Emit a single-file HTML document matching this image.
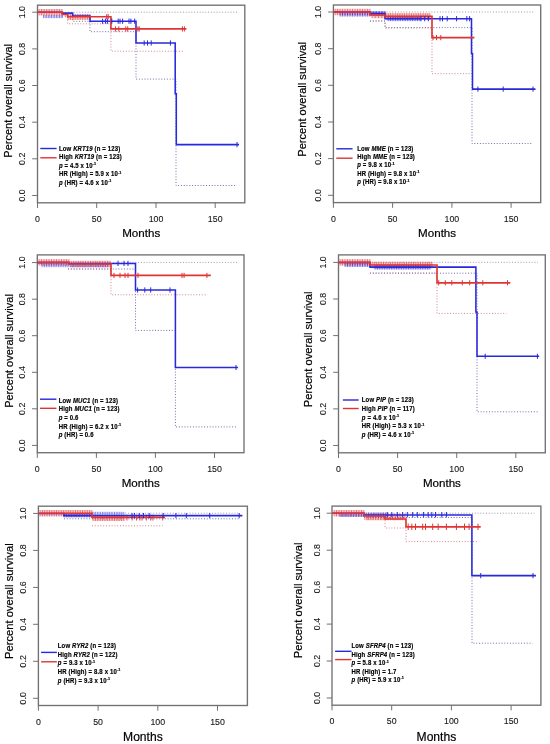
<!DOCTYPE html>
<html><head><meta charset="utf-8"><style>
html,body{margin:0;padding:0;background:#fff;}
body{width:550px;height:744px;overflow:hidden;}
svg{display:block;will-change:transform;}
.tk{font-family:"Liberation Sans",sans-serif;font-size:8.8px;fill:#151515;stroke:#151515;stroke-width:0.1px;}
.ylab{font-family:"Liberation Sans",sans-serif;font-size:11px;fill:#000;stroke:#000;stroke-width:0.2px;}
.lab{font-family:"Liberation Sans",sans-serif;font-size:11.3px;fill:#000;stroke:#000;stroke-width:0.2px;}
.lg{font-family:"Liberation Sans",sans-serif;font-size:6.0px;font-weight:bold;fill:#000;stroke:#000;stroke-width:0.16px;letter-spacing:0.15px;}
.sup{font-size:3.8px;letter-spacing:0;}
</style></head><body>
<svg width="550" height="744" viewBox="0 0 550 744">
<rect width="550" height="744" fill="#fff"/>
<rect x="37.5" y="5.2" width="207.3" height="197.6" fill="none" stroke="#717171" stroke-width="1.35"/>
<path d="M32.2,195.5H37.5M32.2,158.8H37.5M32.2,122.2H37.5M32.2,85.5H37.5M32.2,48.9H37.5M32.2,12.2H37.5M37.5,202.8V208.0M96.7,202.8V208.0M156.0,202.8V208.0M215.2,202.8V208.0" stroke="#717171" stroke-width="1.0" fill="none"/>
<text x="0" y="0" transform="translate(22.2,195.5) rotate(-90)" text-anchor="middle" dominant-baseline="central" class="tk">0.0</text>
<text x="0" y="0" transform="translate(22.2,158.8) rotate(-90)" text-anchor="middle" dominant-baseline="central" class="tk">0.2</text>
<text x="0" y="0" transform="translate(22.2,122.2) rotate(-90)" text-anchor="middle" dominant-baseline="central" class="tk">0.4</text>
<text x="0" y="0" transform="translate(22.2,85.5) rotate(-90)" text-anchor="middle" dominant-baseline="central" class="tk">0.6</text>
<text x="0" y="0" transform="translate(22.2,48.9) rotate(-90)" text-anchor="middle" dominant-baseline="central" class="tk">0.8</text>
<text x="0" y="0" transform="translate(22.2,12.2) rotate(-90)" text-anchor="middle" dominant-baseline="central" class="tk">1.0</text>
<text x="37.5" y="219.0" text-anchor="middle" dominant-baseline="central" class="tk">0</text>
<text x="96.7" y="219.0" text-anchor="middle" dominant-baseline="central" class="tk">50</text>
<text x="156.0" y="219.0" text-anchor="middle" dominant-baseline="central" class="tk">100</text>
<text x="215.2" y="219.0" text-anchor="middle" dominant-baseline="central" class="tk">150</text>
<text x="141.2" y="237.3" text-anchor="middle" class="lab" style="font-size:11.6px">Months</text>
<text x="0" y="0" transform="translate(12.3,100.8) rotate(-90)" text-anchor="middle" class="ylab" style="font-size:11px">Percent overall survival</text>
<path d="M37.3,12.2H238" fill="none" stroke="#9a9aac" stroke-width="1.0" stroke-dasharray="1 1.8"/>
<path d="M62,17H67.6V23.8H110.9V51.2H184.6" fill="none" stroke="#d4848e" stroke-width="1.0" stroke-dasharray="1 1.8"/>
<path d="M62,16H72.7V21.3H90V31.7H136V79.1H176V185.5H237" fill="none" stroke="#7070b0" stroke-width="1.0" stroke-dasharray="1 1.8"/>
<rect x="39.0" y="9.0" width="23.0" height="6.4" fill="#e03434" opacity="0.26"/>
<path d="M39.0,9.0V15.4 M41.6,9.0V15.4 M44.1,9.0V15.4 M46.7,9.0V15.4 M49.2,9.0V15.4 M51.8,9.0V15.4 M54.3,9.0V15.4 M56.9,9.0V15.4 M59.4,9.0V15.4 M62.0,9.0V15.4" fill="none" stroke="#e03434" stroke-width="1.0" opacity="0.58"/>
<rect x="68.0" y="13.9" width="22.0" height="6.0" fill="#e03434" opacity="0.26"/>
<path d="M68.0,13.9V19.9 M70.4,13.9V19.9 M72.9,13.9V19.9 M75.3,13.9V19.9 M77.8,13.9V19.9 M80.2,13.9V19.9 M82.7,13.9V19.9 M85.1,13.9V19.9 M87.6,13.9V19.9 M90.0,13.9V19.9" fill="none" stroke="#e03434" stroke-width="1.0" opacity="0.58"/>
<rect x="43.5" y="15.1" width="18.5" height="3.0" fill="#2828dc" opacity="0.23"/>
<path d="M43.5,15.1V18.1 M46.1,15.1V18.1 M48.8,15.1V18.1 M51.4,15.1V18.1 M54.1,15.1V18.1 M56.7,15.1V18.1 M59.4,15.1V18.1 M62.0,15.1V18.1" fill="none" stroke="#2828dc" stroke-width="1.0" opacity="0.5"/>
<path d="M37.3,12.2H62V13.1H72.7V16H90V21.2H136V43H175.2V93.8H176.3V144.6H239" fill="none" stroke="#2828dc" stroke-width="1.55" />
<path d="M37.3,12.2H62.3V14.5H67.6V16.7H110.9V28.9H186.4" fill="none" stroke="#e03434" stroke-width="1.65" />
<path d="M102.6,18.6V23.8 M105.4,18.6V23.8 M107.4,18.6V23.8 M111.8,18.6V23.8 M118.2,18.6V23.8 M120.0,18.6V23.8 M122.6,18.6V23.8 M129.0,18.6V23.8 M130.9,18.6V23.8 M134.7,18.6V23.8" fill="none" stroke="#2828dc" stroke-width="1.0" opacity="1"/>
<path d="M144.2,40.4V45.6 M147.5,40.4V45.6 M151.2,40.4V45.6 M170.4,40.4V45.6" fill="none" stroke="#2828dc" stroke-width="1.0" opacity="1"/>
<path d="M237.0,142.0V147.2" fill="none" stroke="#2828dc" stroke-width="1.0" opacity="1"/>
<path d="M106.7,14.1V19.3 M108.2,14.1V19.3" fill="none" stroke="#e03434" stroke-width="1.0" opacity="1"/>
<path d="M115.6,26.3V31.5 M118.8,26.3V31.5 M125.8,26.3V31.5 M127.7,26.3V31.5 M137.9,26.3V31.5 M139.2,26.3V31.5 M182.4,26.3V31.5 M184.4,26.3V31.5" fill="none" stroke="#e03434" stroke-width="1.0" opacity="1"/>
<path d="M40.3,148.5H56.6" stroke="#2828dc" stroke-width="1.4"/>
<path d="M40.3,157.8H56.6" stroke="#e03434" stroke-width="1.4"/>
<text x="0" y="0" transform="translate(58.9,151.02) scale(1,1.12)" class="lg">Low <tspan font-style="italic">KRT19</tspan> (n = 123)</text>
<text x="0" y="0" transform="translate(58.9,159.47) scale(1,1.12)" class="lg">High <tspan font-style="italic">KRT19</tspan> (n = 123)</text>
<text x="0" y="0" transform="translate(58.9,167.92) scale(1,1.12)" class="lg"><tspan font-style="italic">p</tspan> = 4.5 x 10<tspan class="sup" dy="-2.4">-1</tspan></text>
<text x="0" y="0" transform="translate(58.9,176.37) scale(1,1.12)" class="lg">HR (High) = 5.9 x 10<tspan class="sup" dy="-2.4">-1</tspan></text>
<text x="0" y="0" transform="translate(58.9,184.82) scale(1,1.12)" class="lg"><tspan font-style="italic">p</tspan> (HR) = 4.6 x 10<tspan class="sup" dy="-2.4">-1</tspan></text>
<rect x="333.4" y="5.0" width="207.3" height="197.6" fill="none" stroke="#717171" stroke-width="1.35"/>
<path d="M328.1,195.3H333.4M328.1,158.6H333.4M328.1,122.0H333.4M328.1,85.3H333.4M328.1,48.7H333.4M328.1,12.0H333.4M333.4,202.6V207.8M392.6,202.6V207.8M451.9,202.6V207.8M511.1,202.6V207.8" stroke="#717171" stroke-width="1.0" fill="none"/>
<text x="0" y="0" transform="translate(318.1,195.3) rotate(-90)" text-anchor="middle" dominant-baseline="central" class="tk">0.0</text>
<text x="0" y="0" transform="translate(318.1,158.6) rotate(-90)" text-anchor="middle" dominant-baseline="central" class="tk">0.2</text>
<text x="0" y="0" transform="translate(318.1,122.0) rotate(-90)" text-anchor="middle" dominant-baseline="central" class="tk">0.4</text>
<text x="0" y="0" transform="translate(318.1,85.3) rotate(-90)" text-anchor="middle" dominant-baseline="central" class="tk">0.6</text>
<text x="0" y="0" transform="translate(318.1,48.7) rotate(-90)" text-anchor="middle" dominant-baseline="central" class="tk">0.8</text>
<text x="0" y="0" transform="translate(318.1,12.0) rotate(-90)" text-anchor="middle" dominant-baseline="central" class="tk">1.0</text>
<text x="333.4" y="218.8" text-anchor="middle" dominant-baseline="central" class="tk">0</text>
<text x="392.6" y="218.8" text-anchor="middle" dominant-baseline="central" class="tk">50</text>
<text x="451.9" y="218.8" text-anchor="middle" dominant-baseline="central" class="tk">100</text>
<text x="511.1" y="218.8" text-anchor="middle" dominant-baseline="central" class="tk">150</text>
<text x="437.1" y="237.1" text-anchor="middle" class="lab" style="font-size:11.6px">Months</text>
<text x="0" y="0" transform="translate(305.9,99.4) rotate(-90)" text-anchor="middle" class="ylab" style="font-size:11.1px">Percent overall survival</text>
<path d="M333.4,12H534.7" fill="none" stroke="#9a9aac" stroke-width="1.0" stroke-dasharray="1 1.8"/>
<path d="M370,21H385V28H432V73.7H472" fill="none" stroke="#d4848e" stroke-width="1.0" stroke-dasharray="1 1.8"/>
<path d="M370,21H385V27.6H472V143.5H532.3" fill="none" stroke="#7070b0" stroke-width="1.0" stroke-dasharray="1 1.8"/>
<rect x="335.0" y="8.8" width="35.0" height="6.4" fill="#e03434" opacity="0.26"/>
<path d="M335.0,8.8V15.2 M337.5,8.8V15.2 M340.0,8.8V15.2 M342.5,8.8V15.2 M345.0,8.8V15.2 M347.5,8.8V15.2 M350.0,8.8V15.2 M352.5,8.8V15.2 M355.0,8.8V15.2 M357.5,8.8V15.2 M360.0,8.8V15.2 M362.5,8.8V15.2 M365.0,8.8V15.2 M367.5,8.8V15.2 M370.0,8.8V15.2" fill="none" stroke="#e03434" stroke-width="1.0" opacity="0.58"/>
<rect x="372.0" y="11.8" width="13.0" height="6.4" fill="#e03434" opacity="0.26"/>
<path d="M372.0,11.8V18.2 M375.2,11.8V18.2 M378.5,11.8V18.2 M381.8,11.8V18.2 M385.0,11.8V18.2" fill="none" stroke="#e03434" stroke-width="1.0" opacity="0.58"/>
<rect x="386.0" y="13.2" width="44.0" height="6.4" fill="#e03434" opacity="0.26"/>
<path d="M386.0,13.2V19.6 M388.3,13.2V19.6 M390.6,13.2V19.6 M392.9,13.2V19.6 M395.3,13.2V19.6 M397.6,13.2V19.6 M399.9,13.2V19.6 M402.2,13.2V19.6 M404.5,13.2V19.6 M406.8,13.2V19.6 M409.2,13.2V19.6 M411.5,13.2V19.6 M413.8,13.2V19.6 M416.1,13.2V19.6 M418.4,13.2V19.6 M420.7,13.2V19.6 M423.1,13.2V19.6 M425.4,13.2V19.6 M427.7,13.2V19.6 M430.0,13.2V19.6" fill="none" stroke="#e03434" stroke-width="1.0" opacity="0.58"/>
<rect x="340.0" y="12.5" width="30.0" height="4.0" fill="#2828dc" opacity="0.23"/>
<path d="M340.0,12.5V16.5 M342.5,12.5V16.5 M345.0,12.5V16.5 M347.5,12.5V16.5 M350.0,12.5V16.5 M352.5,12.5V16.5 M355.0,12.5V16.5 M357.5,12.5V16.5 M360.0,12.5V16.5 M362.5,12.5V16.5 M365.0,12.5V16.5 M367.5,12.5V16.5 M370.0,12.5V16.5" fill="none" stroke="#2828dc" stroke-width="1.0" opacity="0.5"/>
<rect x="371.0" y="11.0" width="14.0" height="4.8" fill="#2828dc" opacity="0.25"/>
<path d="M371.0,11.0V15.8 M373.8,11.0V15.8 M376.6,11.0V15.8 M379.4,11.0V15.8 M382.2,11.0V15.8 M385.0,11.0V15.8" fill="none" stroke="#2828dc" stroke-width="1.0" opacity="0.55"/>
<rect x="388.0" y="16.3" width="32.0" height="4.8" fill="#2828dc" opacity="0.27"/>
<path d="M388.0,16.3V21.1 M390.5,16.3V21.1 M392.9,16.3V21.1 M395.4,16.3V21.1 M397.8,16.3V21.1 M400.3,16.3V21.1 M402.8,16.3V21.1 M405.2,16.3V21.1 M407.7,16.3V21.1 M410.2,16.3V21.1 M412.6,16.3V21.1 M415.1,16.3V21.1 M417.5,16.3V21.1 M420.0,16.3V21.1" fill="none" stroke="#2828dc" stroke-width="1.0" opacity="0.6"/>
<path d="M333.4,12H370V13.4H385V18.7H471.5V53.6H472.5V89.1H535.5" fill="none" stroke="#2828dc" stroke-width="1.55" />
<path d="M333.4,12H370V15H385V16.4H432V37.6H474.4" fill="none" stroke="#e03434" stroke-width="1.65" />
<path d="M421.0,16.1V21.3 M424.7,16.1V21.3 M428.3,16.1V21.3 M440.0,16.1V21.3 M442.5,16.1V21.3 M447.2,16.1V21.3 M456.6,16.1V21.3 M466.8,16.1V21.3 M469.6,16.1V21.3" fill="none" stroke="#2828dc" stroke-width="1.0" opacity="1"/>
<path d="M477.9,86.5V91.7 M503.2,86.5V91.7 M533.0,86.5V91.7" fill="none" stroke="#2828dc" stroke-width="1.0" opacity="1"/>
<path d="M433.0,35.0V40.2 M436.5,35.0V40.2 M440.8,35.0V40.2" fill="none" stroke="#e03434" stroke-width="1.0" opacity="1"/>
<path d="M336.3,148.8H352.6" stroke="#2828dc" stroke-width="1.4"/>
<path d="M336.3,158.2H352.6" stroke="#e03434" stroke-width="1.4"/>
<text x="0" y="0" transform="translate(357.2,150.62) scale(1,1.12)" class="lg">Low <tspan font-style="italic">MME</tspan> (n = 123)</text>
<text x="0" y="0" transform="translate(357.2,159.02) scale(1,1.12)" class="lg">High <tspan font-style="italic">MME</tspan> (n = 123)</text>
<text x="0" y="0" transform="translate(357.2,167.42) scale(1,1.12)" class="lg"><tspan font-style="italic">p</tspan> = 9.8 x 10<tspan class="sup" dy="-2.4">-1</tspan></text>
<text x="0" y="0" transform="translate(357.2,175.82) scale(1,1.12)" class="lg">HR (High) = 9.8 x 10<tspan class="sup" dy="-2.4">-1</tspan></text>
<text x="0" y="0" transform="translate(357.2,184.22) scale(1,1.12)" class="lg"><tspan font-style="italic">p</tspan> (HR) = 9.8 x 10<tspan class="sup" dy="-2.4">-1</tspan></text>
<rect x="37.3" y="254.9" width="206.7" height="197.8" fill="none" stroke="#717171" stroke-width="1.35"/>
<path d="M32.0,445.4H37.3M32.0,408.8H37.3M32.0,372.3H37.3M32.0,335.7H37.3M32.0,299.2H37.3M32.0,262.6H37.3M37.3,452.7V457.9M96.4,452.7V457.9M155.4,452.7V457.9M214.5,452.7V457.9" stroke="#717171" stroke-width="1.0" fill="none"/>
<text x="0" y="0" transform="translate(22.0,445.4) rotate(-90)" text-anchor="middle" dominant-baseline="central" class="tk">0.0</text>
<text x="0" y="0" transform="translate(22.0,408.8) rotate(-90)" text-anchor="middle" dominant-baseline="central" class="tk">0.2</text>
<text x="0" y="0" transform="translate(22.0,372.3) rotate(-90)" text-anchor="middle" dominant-baseline="central" class="tk">0.4</text>
<text x="0" y="0" transform="translate(22.0,335.7) rotate(-90)" text-anchor="middle" dominant-baseline="central" class="tk">0.6</text>
<text x="0" y="0" transform="translate(22.0,299.2) rotate(-90)" text-anchor="middle" dominant-baseline="central" class="tk">0.8</text>
<text x="0" y="0" transform="translate(22.0,262.6) rotate(-90)" text-anchor="middle" dominant-baseline="central" class="tk">1.0</text>
<text x="37.3" y="468.9" text-anchor="middle" dominant-baseline="central" class="tk">0</text>
<text x="96.4" y="468.9" text-anchor="middle" dominant-baseline="central" class="tk">50</text>
<text x="155.4" y="468.9" text-anchor="middle" dominant-baseline="central" class="tk">100</text>
<text x="214.5" y="468.9" text-anchor="middle" dominant-baseline="central" class="tk">150</text>
<text x="140.7" y="487.2" text-anchor="middle" class="lab" style="font-size:11.6px">Months</text>
<text x="0" y="0" transform="translate(12.5,351.0) rotate(-90)" text-anchor="middle" class="ylab" style="font-size:11px">Percent overall survival</text>
<path d="M37.3,262.4H237" fill="none" stroke="#9a9aac" stroke-width="1.0" stroke-dasharray="1 1.8"/>
<path d="M68,269H111V294.8H207.5" fill="none" stroke="#d4848e" stroke-width="1.0" stroke-dasharray="1 1.8"/>
<path d="M68,269H135.5V330.4H175.4V426.9H237" fill="none" stroke="#7070b0" stroke-width="1.0" stroke-dasharray="1 1.8"/>
<rect x="39.0" y="259.2" width="30.0" height="6.4" fill="#e03434" opacity="0.26"/>
<path d="M39.0,259.2V265.6 M41.5,259.2V265.6 M44.0,259.2V265.6 M46.5,259.2V265.6 M49.0,259.2V265.6 M51.5,259.2V265.6 M54.0,259.2V265.6 M56.5,259.2V265.6 M59.0,259.2V265.6 M61.5,259.2V265.6 M64.0,259.2V265.6 M66.5,259.2V265.6 M69.0,259.2V265.6" fill="none" stroke="#e03434" stroke-width="1.0" opacity="0.58"/>
<rect x="71.0" y="260.8" width="39.0" height="6.4" fill="#e03434" opacity="0.26"/>
<path d="M71.0,260.8V267.2 M73.4,260.8V267.2 M75.9,260.8V267.2 M78.3,260.8V267.2 M80.8,260.8V267.2 M83.2,260.8V267.2 M85.6,260.8V267.2 M88.1,260.8V267.2 M90.5,260.8V267.2 M92.9,260.8V267.2 M95.4,260.8V267.2 M97.8,260.8V267.2 M100.2,260.8V267.2 M102.7,260.8V267.2 M105.1,260.8V267.2 M107.6,260.8V267.2 M110.0,260.8V267.2" fill="none" stroke="#e03434" stroke-width="1.0" opacity="0.58"/>
<rect x="42.0" y="264.0" width="66.0" height="3.2" fill="#2828dc" opacity="0.18"/>
<path d="M42.0,264.0V267.2 M44.4,264.0V267.2 M46.7,264.0V267.2 M49.1,264.0V267.2 M51.4,264.0V267.2 M53.8,264.0V267.2 M56.1,264.0V267.2 M58.5,264.0V267.2 M60.9,264.0V267.2 M63.2,264.0V267.2 M65.6,264.0V267.2 M67.9,264.0V267.2 M70.3,264.0V267.2 M72.6,264.0V267.2 M75.0,264.0V267.2 M77.4,264.0V267.2 M79.7,264.0V267.2 M82.1,264.0V267.2 M84.4,264.0V267.2 M86.8,264.0V267.2 M89.1,264.0V267.2 M91.5,264.0V267.2 M93.9,264.0V267.2 M96.2,264.0V267.2 M98.6,264.0V267.2 M100.9,264.0V267.2 M103.3,264.0V267.2 M105.6,264.0V267.2 M108.0,264.0V267.2" fill="none" stroke="#2828dc" stroke-width="1.0" opacity="0.4"/>
<path d="M37.3,262.6H69V263.4H135.5V290H175.4V367.5H238" fill="none" stroke="#2828dc" stroke-width="1.55" />
<path d="M37.3,262.4H69V264H111V275.4H210.8" fill="none" stroke="#e03434" stroke-width="1.65" />
<path d="M118.0,260.8V266.0 M124.0,260.8V266.0 M128.0,260.8V266.0" fill="none" stroke="#2828dc" stroke-width="1.0" opacity="1"/>
<path d="M137.6,287.4V292.6 M144.8,287.4V292.6 M150.7,287.4V292.6 M170.0,287.4V292.6" fill="none" stroke="#2828dc" stroke-width="1.0" opacity="1"/>
<path d="M236.0,364.9V370.1" fill="none" stroke="#2828dc" stroke-width="1.0" opacity="1"/>
<path d="M114.0,272.8V278.0 M120.0,272.8V278.0 M125.0,272.8V278.0 M128.0,272.8V278.0 M138.0,272.8V278.0 M182.0,272.8V278.0 M184.1,272.8V278.0 M206.9,272.8V278.0" fill="none" stroke="#e03434" stroke-width="1.0" opacity="1"/>
<path d="M40,399.2H56.4" stroke="#2828dc" stroke-width="1.4"/>
<path d="M40,408.3H56.4" stroke="#e03434" stroke-width="1.4"/>
<text x="0" y="0" transform="translate(58.7,402.72) scale(1,1.12)" class="lg">Low <tspan font-style="italic">MUC1</tspan> (n = 123)</text>
<text x="0" y="0" transform="translate(58.7,411.37) scale(1,1.12)" class="lg">High <tspan font-style="italic">MUC1</tspan> (n = 123)</text>
<text x="0" y="0" transform="translate(58.7,420.02) scale(1,1.12)" class="lg"><tspan font-style="italic">p</tspan> = 0.6</text>
<text x="0" y="0" transform="translate(58.7,428.67) scale(1,1.12)" class="lg">HR (High) = 6.2 x 10<tspan class="sup" dy="-2.4">-1</tspan></text>
<text x="0" y="0" transform="translate(58.7,437.32) scale(1,1.12)" class="lg"><tspan font-style="italic">p</tspan> (HR) = 0.6</text>
<rect x="338.5" y="254.9" width="206.8" height="197.9" fill="none" stroke="#717171" stroke-width="1.35"/>
<path d="M333.2,445.5H338.5M333.2,408.9H338.5M333.2,372.3H338.5M333.2,335.6H338.5M333.2,299.0H338.5M333.2,262.4H338.5M338.5,452.8V458.0M397.6,452.8V458.0M456.7,452.8V458.0M515.8,452.8V458.0" stroke="#717171" stroke-width="1.0" fill="none"/>
<text x="0" y="0" transform="translate(323.2,445.5) rotate(-90)" text-anchor="middle" dominant-baseline="central" class="tk">0.0</text>
<text x="0" y="0" transform="translate(323.2,408.9) rotate(-90)" text-anchor="middle" dominant-baseline="central" class="tk">0.2</text>
<text x="0" y="0" transform="translate(323.2,372.3) rotate(-90)" text-anchor="middle" dominant-baseline="central" class="tk">0.4</text>
<text x="0" y="0" transform="translate(323.2,335.6) rotate(-90)" text-anchor="middle" dominant-baseline="central" class="tk">0.6</text>
<text x="0" y="0" transform="translate(323.2,299.0) rotate(-90)" text-anchor="middle" dominant-baseline="central" class="tk">0.8</text>
<text x="0" y="0" transform="translate(323.2,262.4) rotate(-90)" text-anchor="middle" dominant-baseline="central" class="tk">1.0</text>
<text x="338.5" y="469.0" text-anchor="middle" dominant-baseline="central" class="tk">0</text>
<text x="397.6" y="469.0" text-anchor="middle" dominant-baseline="central" class="tk">50</text>
<text x="456.7" y="469.0" text-anchor="middle" dominant-baseline="central" class="tk">100</text>
<text x="515.8" y="469.0" text-anchor="middle" dominant-baseline="central" class="tk">150</text>
<text x="441.9" y="487.3" text-anchor="middle" class="lab" style="font-size:11.6px">Months</text>
<text x="0" y="0" transform="translate(312.0,349.3) rotate(-90)" text-anchor="middle" class="ylab" style="font-size:11.2px">Percent overall survival</text>
<path d="M338.5,262.3H538" fill="none" stroke="#9a9aac" stroke-width="1.0" stroke-dasharray="1 1.8"/>
<path d="M370,273H437V313.4H506.4" fill="none" stroke="#d4848e" stroke-width="1.0" stroke-dasharray="1 1.8"/>
<path d="M370,273.2H477V411.8H538" fill="none" stroke="#7070b0" stroke-width="1.0" stroke-dasharray="1 1.8"/>
<rect x="340.0" y="259.2" width="30.0" height="6.4" fill="#e03434" opacity="0.26"/>
<path d="M340.0,259.2V265.6 M342.5,259.2V265.6 M345.0,259.2V265.6 M347.5,259.2V265.6 M350.0,259.2V265.6 M352.5,259.2V265.6 M355.0,259.2V265.6 M357.5,259.2V265.6 M360.0,259.2V265.6 M362.5,259.2V265.6 M365.0,259.2V265.6 M367.5,259.2V265.6 M370.0,259.2V265.6" fill="none" stroke="#e03434" stroke-width="1.0" opacity="0.58"/>
<rect x="372.0" y="261.8" width="60.0" height="6.4" fill="#e03434" opacity="0.26"/>
<path d="M372.0,261.8V268.2 M374.3,261.8V268.2 M376.6,261.8V268.2 M378.9,261.8V268.2 M381.2,261.8V268.2 M383.5,261.8V268.2 M385.8,261.8V268.2 M388.2,261.8V268.2 M390.5,261.8V268.2 M392.8,261.8V268.2 M395.1,261.8V268.2 M397.4,261.8V268.2 M399.7,261.8V268.2 M402.0,261.8V268.2 M404.3,261.8V268.2 M406.6,261.8V268.2 M408.9,261.8V268.2 M411.2,261.8V268.2 M413.5,261.8V268.2 M415.8,261.8V268.2 M418.2,261.8V268.2 M420.5,261.8V268.2 M422.8,261.8V268.2 M425.1,261.8V268.2 M427.4,261.8V268.2 M429.7,261.8V268.2 M432.0,261.8V268.2" fill="none" stroke="#e03434" stroke-width="1.0" opacity="0.58"/>
<rect x="345.0" y="263.0" width="25.0" height="4.0" fill="#2828dc" opacity="0.23"/>
<path d="M345.0,263.0V267.0 M347.5,263.0V267.0 M350.0,263.0V267.0 M352.5,263.0V267.0 M355.0,263.0V267.0 M357.5,263.0V267.0 M360.0,263.0V267.0 M362.5,263.0V267.0 M365.0,263.0V267.0 M367.5,263.0V267.0 M370.0,263.0V267.0" fill="none" stroke="#2828dc" stroke-width="1.0" opacity="0.5"/>
<rect x="375.0" y="264.7" width="55.0" height="4.8" fill="#2828dc" opacity="0.27"/>
<path d="M375.0,264.7V269.5 M377.4,264.7V269.5 M379.8,264.7V269.5 M382.2,264.7V269.5 M384.6,264.7V269.5 M387.0,264.7V269.5 M389.3,264.7V269.5 M391.7,264.7V269.5 M394.1,264.7V269.5 M396.5,264.7V269.5 M398.9,264.7V269.5 M401.3,264.7V269.5 M403.7,264.7V269.5 M406.1,264.7V269.5 M408.5,264.7V269.5 M410.9,264.7V269.5 M413.3,264.7V269.5 M415.7,264.7V269.5 M418.0,264.7V269.5 M420.4,264.7V269.5 M422.8,264.7V269.5 M425.2,264.7V269.5 M427.6,264.7V269.5 M430.0,264.7V269.5" fill="none" stroke="#2828dc" stroke-width="1.0" opacity="0.6"/>
<path d="M338.5,262.4H370V267.1H475.9V311.9H477V356.3H539.2" fill="none" stroke="#2828dc" stroke-width="1.55" />
<path d="M338.5,262.4H370V265H437V282.8H510.3" fill="none" stroke="#e03434" stroke-width="1.65" />
<path d="M485.2,353.7V358.9 M537.4,353.7V358.9" fill="none" stroke="#2828dc" stroke-width="1.0" opacity="1"/>
<path d="M438.7,280.2V285.4 M445.3,280.2V285.4 M451.8,280.2V285.4 M462.3,280.2V285.4 M469.7,280.2V285.4 M482.8,280.2V285.4 M507.5,280.2V285.4" fill="none" stroke="#e03434" stroke-width="1.0" opacity="1"/>
<path d="M342.9,400H358.7" stroke="#2828dc" stroke-width="1.4"/>
<path d="M342.9,408.5H358.7" stroke="#e03434" stroke-width="1.4"/>
<text x="0" y="0" transform="translate(361.8,402.32) scale(1,1.12)" class="lg">Low <tspan font-style="italic">PIP</tspan> (n = 123)</text>
<text x="0" y="0" transform="translate(361.8,411.02) scale(1,1.12)" class="lg">High <tspan font-style="italic">PIP</tspan> (n = 117)</text>
<text x="0" y="0" transform="translate(361.8,419.72) scale(1,1.12)" class="lg"><tspan font-style="italic">p</tspan> = 4.6 x 10<tspan class="sup" dy="-2.4">-1</tspan></text>
<text x="0" y="0" transform="translate(361.8,428.42) scale(1,1.12)" class="lg">HR (High) = 5.3 x 10<tspan class="sup" dy="-2.4">-1</tspan></text>
<text x="0" y="0" transform="translate(361.8,437.12) scale(1,1.12)" class="lg"><tspan font-style="italic">p</tspan> (HR) = 4.6 x 10<tspan class="sup" dy="-2.4">-1</tspan></text>
<rect x="38.4" y="506.2" width="209.0" height="199.3" fill="none" stroke="#717171" stroke-width="1.35"/>
<path d="M33.1,698.3H38.4M33.1,661.3H38.4M33.1,624.3H38.4M33.1,587.4H38.4M33.1,550.4H38.4M33.1,513.4H38.4M38.4,705.5V710.7M98.1,705.5V710.7M157.8,705.5V710.7M217.5,705.5V710.7" stroke="#717171" stroke-width="1.0" fill="none"/>
<text x="0" y="0" transform="translate(23.1,698.3) rotate(-90)" text-anchor="middle" dominant-baseline="central" class="tk">0.0</text>
<text x="0" y="0" transform="translate(23.1,661.3) rotate(-90)" text-anchor="middle" dominant-baseline="central" class="tk">0.2</text>
<text x="0" y="0" transform="translate(23.1,624.3) rotate(-90)" text-anchor="middle" dominant-baseline="central" class="tk">0.4</text>
<text x="0" y="0" transform="translate(23.1,587.4) rotate(-90)" text-anchor="middle" dominant-baseline="central" class="tk">0.6</text>
<text x="0" y="0" transform="translate(23.1,550.4) rotate(-90)" text-anchor="middle" dominant-baseline="central" class="tk">0.8</text>
<text x="0" y="0" transform="translate(23.1,513.4) rotate(-90)" text-anchor="middle" dominant-baseline="central" class="tk">1.0</text>
<text x="38.4" y="721.7" text-anchor="middle" dominant-baseline="central" class="tk">0</text>
<text x="98.1" y="721.7" text-anchor="middle" dominant-baseline="central" class="tk">50</text>
<text x="157.8" y="721.7" text-anchor="middle" dominant-baseline="central" class="tk">100</text>
<text x="217.5" y="721.7" text-anchor="middle" dominant-baseline="central" class="tk">150</text>
<text x="142.9" y="740.8" text-anchor="middle" class="lab" style="font-size:12.1px">Months</text>
<text x="0" y="0" transform="translate(13.2,601.2) rotate(-90)" text-anchor="middle" class="ylab" style="font-size:11.2px">Percent overall survival</text>
<path d="M38.4,513.2H240" fill="none" stroke="#9a9aac" stroke-width="1.0" stroke-dasharray="1 1.8"/>
<path d="M64,518.8H240" fill="none" stroke="#7070b0" stroke-width="1.0" stroke-dasharray="1 1.8"/>
<path d="M92,525.8H162.7" fill="none" stroke="#d4848e" stroke-width="1.0" stroke-dasharray="1 1.8"/>
<rect x="40.0" y="510.0" width="52.0" height="6.4" fill="#e03434" opacity="0.26"/>
<path d="M40.0,510.0V516.4 M42.4,510.0V516.4 M44.7,510.0V516.4 M47.1,510.0V516.4 M49.5,510.0V516.4 M51.8,510.0V516.4 M54.2,510.0V516.4 M56.5,510.0V516.4 M58.9,510.0V516.4 M61.3,510.0V516.4 M63.6,510.0V516.4 M66.0,510.0V516.4 M68.4,510.0V516.4 M70.7,510.0V516.4 M73.1,510.0V516.4 M75.5,510.0V516.4 M77.8,510.0V516.4 M80.2,510.0V516.4 M82.5,510.0V516.4 M84.9,510.0V516.4 M87.3,510.0V516.4 M89.6,510.0V516.4 M92.0,510.0V516.4" fill="none" stroke="#e03434" stroke-width="1.0" opacity="0.58"/>
<rect x="93.0" y="515.0" width="31.0" height="6.0" fill="#e03434" opacity="0.26"/>
<path d="M93.0,515.0V521.0 M95.4,515.0V521.0 M97.8,515.0V521.0 M100.2,515.0V521.0 M102.5,515.0V521.0 M104.9,515.0V521.0 M107.3,515.0V521.0 M109.7,515.0V521.0 M112.1,515.0V521.0 M114.5,515.0V521.0 M116.8,515.0V521.0 M119.2,515.0V521.0 M121.6,515.0V521.0 M124.0,515.0V521.0" fill="none" stroke="#e03434" stroke-width="1.0" opacity="0.58"/>
<path d="M127.0,514.6V520.6 M132.2,514.6V520.6 M136.5,514.6V520.6 M139.8,514.6V520.6 M142.0,514.6V520.6 M146.4,514.6V520.6 M150.7,514.6V520.6 M152.9,514.6V520.6 M162.8,514.6V520.6" fill="none" stroke="#e03434" stroke-width="1.0" opacity="0.85"/>
<rect x="93.0" y="511.8" width="31.0" height="4.0" fill="#2828dc" opacity="0.17"/>
<path d="M93.0,511.8V515.8 M95.4,511.8V515.8 M97.8,511.8V515.8 M100.2,511.8V515.8 M102.5,511.8V515.8 M104.9,511.8V515.8 M107.3,511.8V515.8 M109.7,511.8V515.8 M112.1,511.8V515.8 M114.5,511.8V515.8 M116.8,511.8V515.8 M119.2,511.8V515.8 M121.6,511.8V515.8 M124.0,511.8V515.8" fill="none" stroke="#2828dc" stroke-width="1.0" opacity="0.38"/>
<rect x="64.0" y="513.4" width="28.0" height="4.0" fill="#2828dc" opacity="0.23"/>
<path d="M64.0,513.4V517.4 M66.5,513.4V517.4 M69.1,513.4V517.4 M71.6,513.4V517.4 M74.2,513.4V517.4 M76.7,513.4V517.4 M79.3,513.4V517.4 M81.8,513.4V517.4 M84.4,513.4V517.4 M86.9,513.4V517.4 M89.5,513.4V517.4 M92.0,513.4V517.4" fill="none" stroke="#2828dc" stroke-width="1.0" opacity="0.5"/>
<path d="M38.4,513.4H64V515.6H242.4" fill="none" stroke="#2828dc" stroke-width="1.55" />
<path d="M38.4,513.2H92V517.4H165" fill="none" stroke="#e03434" stroke-width="1.65" />
<path d="M132.0,513.0V518.2 M134.4,513.0V518.2 M139.2,513.0V518.2 M143.5,513.0V518.2 M149.2,513.0V518.2 M163.2,513.0V518.2 M175.9,513.0V518.2 M186.3,513.0V518.2 M209.7,513.0V518.2 M239.2,513.0V518.2" fill="none" stroke="#2828dc" stroke-width="1.0" opacity="1"/>
<path d="M41.1,652.4H56.9" stroke="#2828dc" stroke-width="1.4"/>
<path d="M41.1,661.8H56.9" stroke="#e03434" stroke-width="1.4"/>
<text x="0" y="0" transform="translate(57.8,648.32) scale(1,1.12)" class="lg">Low <tspan font-style="italic">RYR2</tspan> (n = 123)</text>
<text x="0" y="0" transform="translate(57.8,656.87) scale(1,1.12)" class="lg">High <tspan font-style="italic">RYR2</tspan> (n = 122)</text>
<text x="0" y="0" transform="translate(57.8,665.42) scale(1,1.12)" class="lg"><tspan font-style="italic">p</tspan> = 9.3 x 10<tspan class="sup" dy="-2.4">-1</tspan></text>
<text x="0" y="0" transform="translate(57.8,673.97) scale(1,1.12)" class="lg">HR (High) = 8.8 x 10<tspan class="sup" dy="-2.4">-1</tspan></text>
<text x="0" y="0" transform="translate(57.8,682.52) scale(1,1.12)" class="lg"><tspan font-style="italic">p</tspan> (HR) = 9.3 x 10<tspan class="sup" dy="-2.4">-1</tspan></text>
<rect x="332.0" y="506.1" width="208.9" height="199.1" fill="none" stroke="#717171" stroke-width="1.35"/>
<path d="M326.7,698.0H332.0M326.7,661.0H332.0M326.7,624.1H332.0M326.7,587.1H332.0M326.7,550.2H332.0M326.7,513.2H332.0M332.0,705.2V710.4M391.7,705.2V710.4M451.4,705.2V710.4M511.1,705.2V710.4" stroke="#717171" stroke-width="1.0" fill="none"/>
<text x="0" y="0" transform="translate(316.7,698.0) rotate(-90)" text-anchor="middle" dominant-baseline="central" class="tk">0.0</text>
<text x="0" y="0" transform="translate(316.7,661.0) rotate(-90)" text-anchor="middle" dominant-baseline="central" class="tk">0.2</text>
<text x="0" y="0" transform="translate(316.7,624.1) rotate(-90)" text-anchor="middle" dominant-baseline="central" class="tk">0.4</text>
<text x="0" y="0" transform="translate(316.7,587.1) rotate(-90)" text-anchor="middle" dominant-baseline="central" class="tk">0.6</text>
<text x="0" y="0" transform="translate(316.7,550.2) rotate(-90)" text-anchor="middle" dominant-baseline="central" class="tk">0.8</text>
<text x="0" y="0" transform="translate(316.7,513.2) rotate(-90)" text-anchor="middle" dominant-baseline="central" class="tk">1.0</text>
<text x="332.0" y="721.4" text-anchor="middle" dominant-baseline="central" class="tk">0</text>
<text x="391.7" y="721.4" text-anchor="middle" dominant-baseline="central" class="tk">50</text>
<text x="451.4" y="721.4" text-anchor="middle" dominant-baseline="central" class="tk">100</text>
<text x="511.1" y="721.4" text-anchor="middle" dominant-baseline="central" class="tk">150</text>
<text x="436.4" y="740.5" text-anchor="middle" class="lab" style="font-size:12.1px">Months</text>
<text x="0" y="0" transform="translate(302.2,600.4) rotate(-90)" text-anchor="middle" class="ylab" style="font-size:11.2px">Percent overall survival</text>
<path d="M332,513.2H534.4" fill="none" stroke="#9a9aac" stroke-width="1.0" stroke-dasharray="1 1.8"/>
<path d="M364,519H385V528H406V541.6H477" fill="none" stroke="#d4848e" stroke-width="1.0" stroke-dasharray="1 1.8"/>
<path d="M364,517.5H472V643.2H532.6" fill="none" stroke="#7070b0" stroke-width="1.0" stroke-dasharray="1 1.8"/>
<rect x="334.0" y="510.0" width="30.0" height="6.4" fill="#e03434" opacity="0.26"/>
<path d="M334.0,510.0V516.4 M336.5,510.0V516.4 M339.0,510.0V516.4 M341.5,510.0V516.4 M344.0,510.0V516.4 M346.5,510.0V516.4 M349.0,510.0V516.4 M351.5,510.0V516.4 M354.0,510.0V516.4 M356.5,510.0V516.4 M359.0,510.0V516.4 M361.5,510.0V516.4 M364.0,510.0V516.4" fill="none" stroke="#e03434" stroke-width="1.0" opacity="0.58"/>
<rect x="366.0" y="513.8" width="39.0" height="6.4" fill="#e03434" opacity="0.26"/>
<path d="M366.0,513.8V520.2 M368.4,513.8V520.2 M370.9,513.8V520.2 M373.3,513.8V520.2 M375.8,513.8V520.2 M378.2,513.8V520.2 M380.6,513.8V520.2 M383.1,513.8V520.2 M385.5,513.8V520.2 M387.9,513.8V520.2 M390.4,513.8V520.2 M392.8,513.8V520.2 M395.2,513.8V520.2 M397.7,513.8V520.2 M400.1,513.8V520.2 M402.6,513.8V520.2 M405.0,513.8V520.2" fill="none" stroke="#e03434" stroke-width="1.0" opacity="0.58"/>
<rect x="340.0" y="513.0" width="24.0" height="4.0" fill="#2828dc" opacity="0.23"/>
<path d="M340.0,513.0V517.0 M342.7,513.0V517.0 M345.3,513.0V517.0 M348.0,513.0V517.0 M350.7,513.0V517.0 M353.3,513.0V517.0 M356.0,513.0V517.0 M358.7,513.0V517.0 M361.3,513.0V517.0 M364.0,513.0V517.0" fill="none" stroke="#2828dc" stroke-width="1.0" opacity="0.5"/>
<rect x="366.0" y="512.5" width="20.0" height="4.8" fill="#2828dc" opacity="0.23"/>
<path d="M366.0,512.5V517.3 M368.5,512.5V517.3 M371.0,512.5V517.3 M373.5,512.5V517.3 M376.0,512.5V517.3 M378.5,512.5V517.3 M381.0,512.5V517.3 M383.5,512.5V517.3 M386.0,512.5V517.3" fill="none" stroke="#2828dc" stroke-width="1.0" opacity="0.5"/>
<path d="M387.3,512.0V517.4 M391.8,512.0V517.4 M397.3,512.0V517.4 M402.7,512.0V517.4 M407.3,512.0V517.4 M412.7,512.0V517.4 M417.3,512.0V517.4 M423.6,512.0V517.4 M428.2,512.0V517.4 M431.8,512.0V517.4 M435.5,512.0V517.4 M441.8,512.0V517.4 M446.4,512.0V517.4" fill="none" stroke="#2828dc" stroke-width="1.0" opacity="1"/>
<path d="M408.2,523.6V530.0 M411.8,523.6V530.0 M415.5,523.6V530.0 M422.7,523.6V530.0 M425.5,523.6V530.0 M432.7,523.6V530.0 M438.2,523.6V530.0 M446.4,523.6V530.0 M456.4,523.6V530.0 M464.5,523.6V530.0 M469.1,523.6V530.0" fill="none" stroke="#e03434" stroke-width="1.0" opacity="1"/>
<path d="M332,513.2H364V514.9H471.9V575.6H535.9" fill="none" stroke="#2828dc" stroke-width="1.55" />
<path d="M332,513.2H364V516H385V519H406V526.8H480.7" fill="none" stroke="#e03434" stroke-width="1.65" />
<path d="M480.7,573.0V578.2 M533.0,573.0V578.2" fill="none" stroke="#2828dc" stroke-width="1.0" opacity="1"/>
<path d="M478.0,523.6V530.0" fill="none" stroke="#e03434" stroke-width="1.0" opacity="1"/>
<path d="M335.1,651.3H351.5" stroke="#2828dc" stroke-width="1.4"/>
<path d="M335.1,659.6H351.5" stroke="#e03434" stroke-width="1.4"/>
<text x="0" y="0" transform="translate(351.5,648.32) scale(1,1.12)" class="lg">Low <tspan font-style="italic">SFRP4</tspan> (n = 123)</text>
<text x="0" y="0" transform="translate(351.5,656.77) scale(1,1.12)" class="lg">High <tspan font-style="italic">SFRP4</tspan> (n = 123)</text>
<text x="0" y="0" transform="translate(351.5,665.22) scale(1,1.12)" class="lg"><tspan font-style="italic">p</tspan> = 5.8 x 10<tspan class="sup" dy="-2.4">-1</tspan></text>
<text x="0" y="0" transform="translate(351.5,673.67) scale(1,1.12)" class="lg">HR (High) = 1.7</text>
<text x="0" y="0" transform="translate(351.5,682.12) scale(1,1.12)" class="lg"><tspan font-style="italic">p</tspan> (HR) = 5.9 x 10<tspan class="sup" dy="-2.4">-1</tspan></text>
</svg>
</body></html>
